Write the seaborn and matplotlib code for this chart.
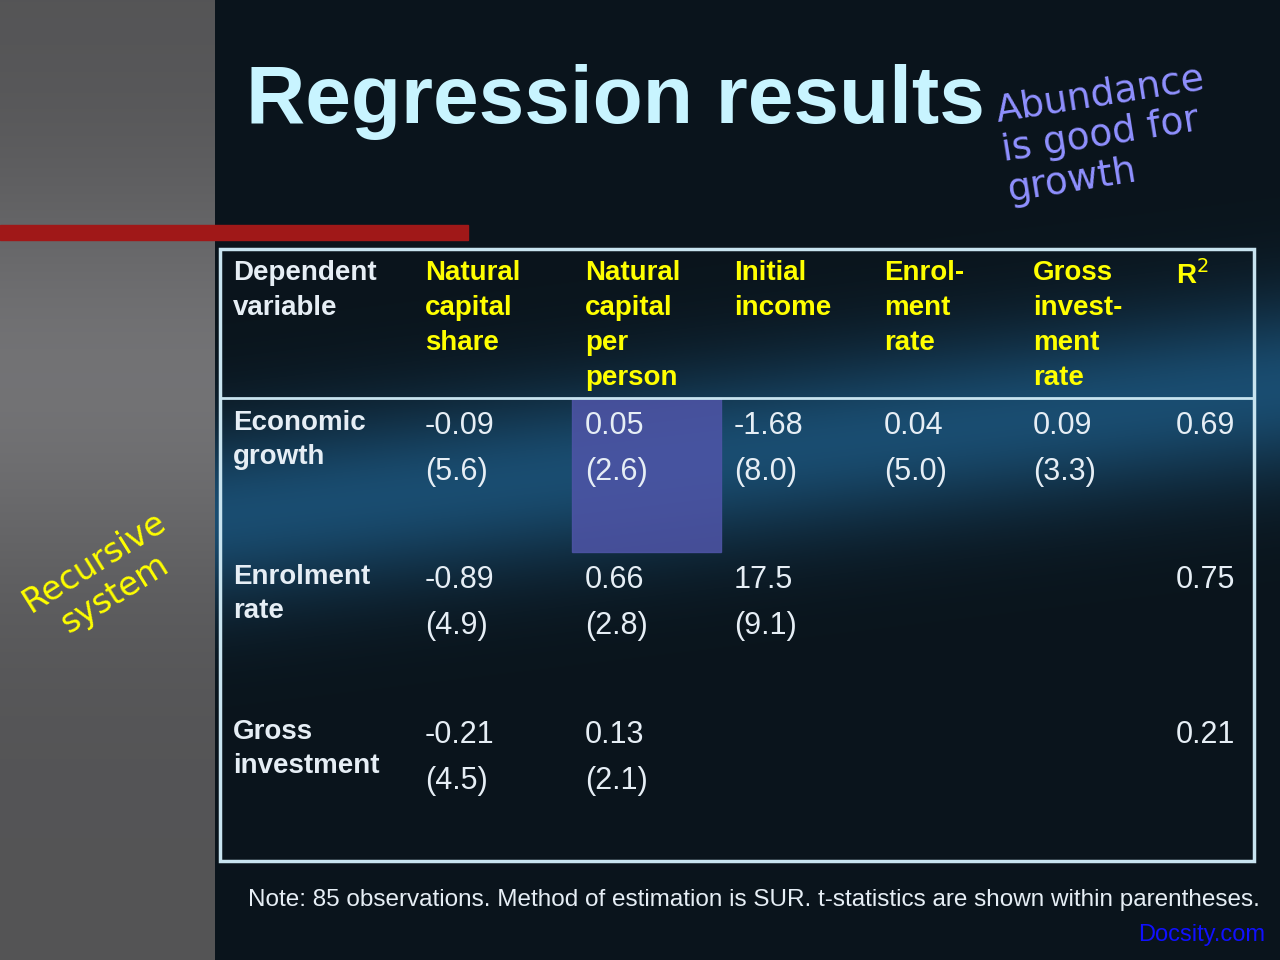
import numpy as np
import matplotlib
matplotlib.use("Agg")
import matplotlib.pyplot as plt
import seaborn as sns
from matplotlib.patches import Rectangle

sns.set_theme(style="white", font="Liberation Sans")

headers = ["Dependent\nvariable", "Natural\ncapital\nshare", "Natural\ncapital\nper\nperson",
           "Initial\nincome", "Enrol-\nment\nrate", "Gross\ninvest-\nment\nrate", "R$^2$"]
row_labels = ["Economic\ngrowth", "Enrolment\nrate", "Gross\ninvestment"]
coefs = [["-0.09", "0.05", "-1.68", "0.04", "0.09", "0.69"],
         ["-0.89", "0.66", "17.5", "", "", "0.75"],
         ["-0.21", "0.13", "", "", "", "0.21"]]
tstats = [["(5.6)", "(2.6)", "(8.0)", "(5.0)", "(3.3)", ""],
          ["(4.9)", "(2.8)", "(9.1)", "", "", ""],
          ["(4.5)", "(2.1)", "", "", "", ""]]

col_x = [233, 425, 585, 734, 884, 1033, 1176]
row_y = [426, 580, 735]
FONT = "Liberation Sans"

fig = plt.figure(figsize=(12.8, 9.6), dpi=100)
ax = fig.add_axes([0, 0, 1, 1])

yy, xx = np.mgrid[0:960, 0:1280]
streak = np.exp(-((yy - (470 - 0.12 * (xx - 600))) / 90.0) ** 2)
r = 0.04 + 0.06 * streak
g = 0.08 + 0.22 * streak
b = 0.11 + 0.33 * streak
img = np.dstack([r, g, b])
left = xx < 215
gray = 0.33 + 0.12 * np.exp(-((yy - 380) / 200.0) ** 2)
for c in range(3):
    img[..., c] = np.where(left, gray * (1.0 if c < 2 else 1.02), img[..., c])
ax.imshow(np.clip(img, 0, 1), extent=[0, 1280, 960, 0], aspect="auto", zorder=0)
ax.set_xlim(0, 1280)
ax.set_ylim(960, 0)
ax.axis("off")

ax.add_patch(Rectangle((0, 225), 468, 15, color="#a01818", zorder=1))
ax.add_patch(Rectangle((572, 398), 149, 154, color="#4f55a8", alpha=0.85, zorder=1))
ax.add_patch(Rectangle((220, 249), 1034, 612, fill=False, ec="#c8e4f0", lw=2.5, zorder=3))
ax.plot([220, 1254], [398, 398], color="#c8e4f0", lw=2, zorder=3)

ax.text(246, 102, "Regression results", color="#c8f4ff", fontsize=59, fontweight="bold",
        va="center", ha="left", family=FONT, zorder=4)
ax.text(993, 135, "Abundance\nis good for\ngrowth", color="#9090ff", fontsize=27, rotation=9,
        va="center", ha="left", family="DejaVu Sans", linespacing=1.15, zorder=4)
ax.text(105, 578, "Recursive\nsystem", color="#ffff00", fontsize=24, rotation=32,
        va="center", ha="center", family="DejaVu Sans", zorder=4)

for i, h in enumerate(headers):
    color = "#e6eef5" if i == 0 else "#ffff00"
    ax.text(col_x[i], 260, h, color=color, fontsize=20, fontweight="bold", va="top",
            ha="left", linespacing=1.45, family=FONT, zorder=4)

for r_i, lab in enumerate(row_labels):
    ax.text(233, row_y[r_i] - 16, lab, color="#e6eef5", fontsize=20, fontweight="bold",
            va="top", ha="left", linespacing=1.4, family=FONT, zorder=4)
    for c_i in range(6):
        ax.text(col_x[c_i + 1], row_y[r_i], coefs[r_i][c_i], color="#e6eef5", fontsize=22,
                va="center", ha="left", family=FONT, zorder=4)
        ax.text(col_x[c_i + 1], row_y[r_i] + 46, tstats[r_i][c_i], color="#e6eef5", fontsize=22,
                va="center", ha="left", family=FONT, zorder=4)

ax.text(1260, 900, "Note: 85 observations. Method of estimation is SUR. t-statistics are shown within parentheses.",
        color="#e6eef5", fontsize=17.5, va="center", ha="right", family=FONT, zorder=4)
ax.text(1265, 935, "Docsity.com", color="#1010ff", fontsize=17, va="center", ha="right", family=FONT, zorder=4)

fig.savefig("out.png", dpi=100)
